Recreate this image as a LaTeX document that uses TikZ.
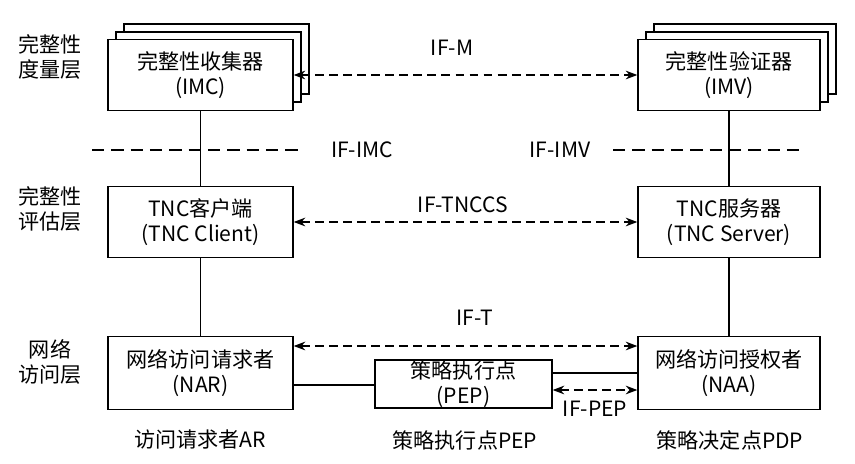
\documentclass[tikz,border=0pt]{standalone}
\usepackage{fontspec}
\setmainfont{Liberation Serif}
\newfontfamily\cjk{Noto Sans CJK SC}
\usetikzlibrary{arrows.meta}
\begin{document}
\begin{tikzpicture}[x=0.02cm,y=-0.02cm,
  box/.style={draw,thick,fill=white,minimum width=3.7cm,minimum height=1.42cm,align=center,font=\large,inner sep=0pt},
  lbl/.style={font=\large,align=center},
  dar/.style={dash pattern=on 5pt off 3pt,thick,{Stealth}-{Stealth}},
  sl/.style={thick}]
\useasboundingbox (0,0) rectangle (855,463);
\cjk
% stacked back boxes
\foreach \d in {16,8}{
  \draw[thick,fill=white] (108+\d,40-\d) rectangle (293+\d,110-\d);
  \draw[thick,fill=white] (638+\d,40-\d) rectangle (820+\d,110-\d);}
\node[box] (imc) at (200.5,75) {完整性收集器\\(IMC)};
\node[box,minimum width=3.64cm] (imv) at (729,75) {完整性验证器\\(IMV)};
\node[box] (tncc) at (200.5,222) {TNC客户端\\(TNC Client)};
\node[box,minimum width=3.64cm] (tncs) at (729,222) {TNC服务器\\(TNC Server)};
\node[box,minimum height=1.46cm] (nar) at (200.5,373) {网络访问请求者\\(NAR)};
\node[box,minimum width=3.64cm,minimum height=1.46cm] (naa) at (729,373) {网络访问授权者\\(NAA)};
\node[box,minimum width=3.54cm,minimum height=0.96cm] (pep) at (463.5,384) {策略执行点\\(PEP)};
% layer labels
\node[lbl] (l1) at (50,57) {完整性\\度量层};
\node[lbl] (l2) at (50,209) {完整性\\评估层};
\node[lbl] (l3) at (50,362) {网络\\访问层};
% dashed separators
\coordinate (s1) at (92,150); \coordinate (s2) at (298,150);
\coordinate (s3) at (613,150); \coordinate (s4) at (805,150);
\draw[dash pattern=on 7pt off 4pt,thick] (s1) -- (s2);
\draw[dash pattern=on 7pt off 4pt,thick] (s3) -- (s4);
\node[lbl] (ifimc) at (362,150) {IF-IMC};
\node[lbl] (ifimv) at (560,150) {IF-IMV};
% vertical lines
\draw[sl] (imc) -- (tncc);
\draw[sl] (tncc) -- (nar);
\draw[sl] (imv) -- (tncs);
\draw[sl] (tncs) -- (naa);
% arrows
\draw[dar] (imc.east) -- (imv.west);
\node[lbl] (ifm) at (452,48) {IF-M};
\draw[dar] (tncc.east) -- (tncs.west);
\node[lbl] (iftnccs) at (463,205) {IF-TNCCS};
\draw[dar] (nar.north east |- 0,346) -- (naa.west |- 0,346);
\node[lbl] (ift) at (475,318) {IF-T};
\draw[sl] (nar.east |- 0,385) -- (pep.west |- 0,385);
\draw[sl] (pep.east |- 0,373) -- (naa.west |- 0,373);
\draw[dar] (pep.east |- 0,390) -- (naa.west |- 0,390);
\node[lbl] (ifpep) at (595,409) {IF-PEP};
% bottom labels
\node[lbl] (ar) at (200,440) {访问请求者AR};
\node[lbl] (pepb) at (465,440) {策略执行点PEP};
\node[lbl] (pdp) at (730,440) {策略决定点PDP};
\end{tikzpicture}
\end{document}
